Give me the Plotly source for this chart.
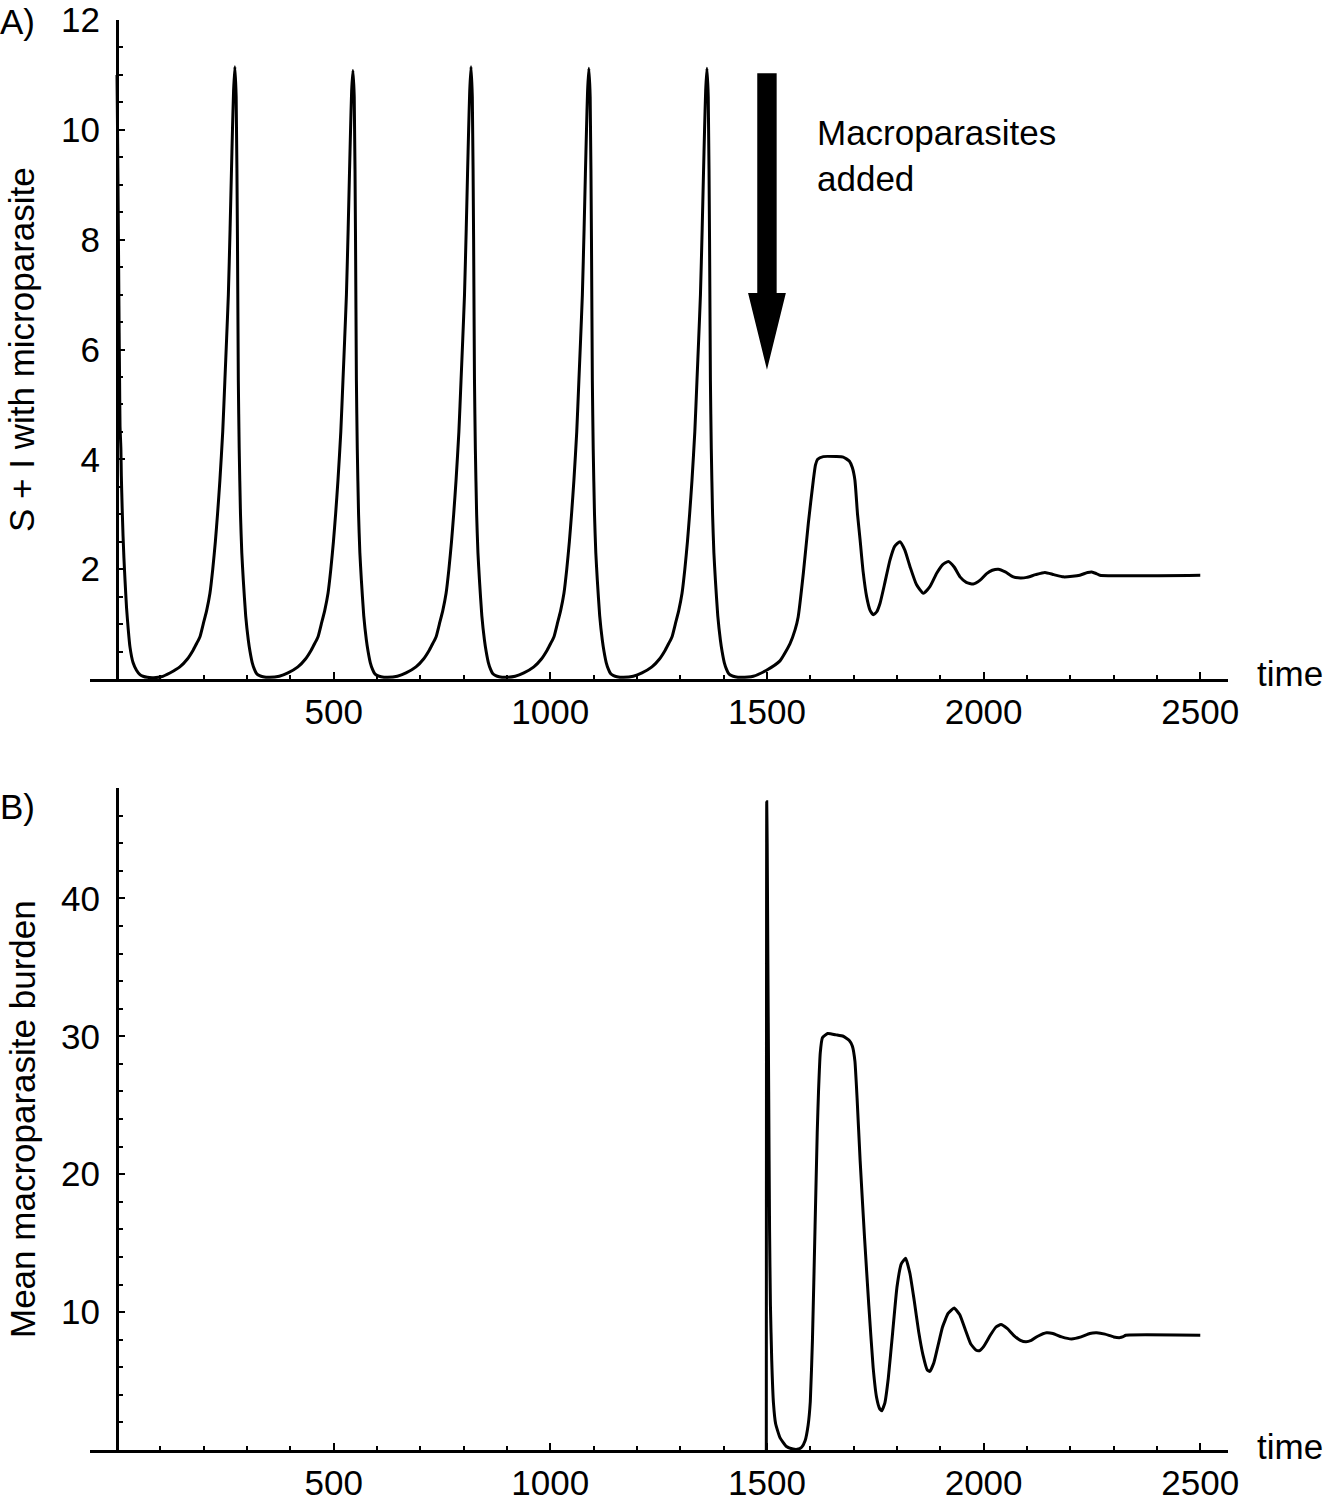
import plotly.graph_objects as go

# ---------------- data ----------------
time_a = [0, 1, 2, 3, 4, 5, 6, 7, 8, 9, 10, 12, 14, 16, 18.5, 22, 26, 30, 37, 45, 53, 60, 70, 85, 102,
          122, 145, 162, 176, 184, 191.5, 199, 207, 214.5, 221, 227, 232, 237.5, 244, 249, 253, 257, 261, 264, 266.5, 269,
          272, 275, 278, 280, 282, 285, 288, 291.5, 297, 303, 307, 312, 317, 322, 329, 337, 352,
          374.5, 394.5, 417.5, 434.5, 448.5, 456.5, 464, 471.5, 479.5, 487, 493.5, 499.5, 504.5, 510, 516.5, 521.5, 525.5, 529.5, 533.5, 536.5, 539, 541.5,
          544.5, 547.5, 550.5, 552.5, 554.5, 557.5, 560.5, 564, 569.5, 575.5, 579.5, 584.5, 589.5, 594.5, 601.5, 609.5, 624.5,
          647, 667, 690, 707, 721, 729, 736.5, 744, 752, 759.5, 766, 772, 777, 782.5, 789, 794, 798, 802, 806, 809, 811.5, 814,
          817, 820, 823, 825, 827, 830, 833, 836.5, 842, 848, 852, 857, 862, 867, 874, 882, 897,
          919, 939, 962, 979, 993, 1001, 1008.5, 1016, 1024, 1031.5, 1038, 1044, 1049, 1054.5, 1061, 1066, 1070, 1074, 1078, 1081, 1083.5, 1086,
          1089, 1092, 1095, 1097, 1099, 1102, 1105, 1108.5, 1114, 1120, 1124, 1129, 1134, 1139, 1146, 1154, 1169,
          1191.5, 1211.5, 1234.5, 1251.5, 1265.5, 1273.5, 1281, 1288.5, 1296.5, 1304, 1310.5, 1316.5, 1321.5, 1327, 1333.5, 1338.5, 1342.5, 1346.5, 1350.5, 1353.5, 1356, 1358.5,
          1361.5, 1364.5, 1367.5, 1369.5, 1371.5, 1374.5, 1377.5, 1381, 1386.5, 1392.5, 1396.5, 1401.5, 1406.5, 1411.5, 1418.5, 1426.5, 1440,
          1468.5, 1499, 1530, 1553, 1565, 1572, 1584, 1595.5, 1607, 1612, 1617, 1630, 1660, 1676, 1690, 1697, 1703, 1709, 1715, 1722, 1730, 1738, 1745.5, 1753, 1761,
          1772, 1784, 1795, 1807, 1818, 1830, 1845, 1861, 1876, 1892, 1905, 1918.5, 1932, 1945.5, 1960, 1976, 1992, 2007, 2020, 2034, 2050,
          2068.5, 2085, 2099.5, 2120, 2141.5, 2162, 2184, 2205, 2222, 2240, 2249.5, 2260, 2268.5, 2500]
s_plus_i = [11.0, 10.2, 9.3, 8.3, 7.3, 6.3, 5.4, 4.6, 4.4, 4.2, 3.7, 3.1, 2.6, 2.2, 1.8, 1.3, 0.9, 0.58, 0.3, 0.16, 0.08, 0.05, 0.03, 0.025, 0.04,
            0.11, 0.22, 0.36, 0.53, 0.65, 0.77, 1.0, 1.25, 1.56, 2.0, 2.5, 3.0, 3.62, 4.5, 5.44, 6.2, 7.0, 8.2, 9.2, 10.0, 10.7,
            11.15, 10.6, 8.0, 5.44, 4.2, 3.0, 2.3, 1.8, 1.15, 0.71, 0.5, 0.3, 0.18, 0.1, 0.06, 0.04, 0.03,
            0.05, 0.11, 0.22, 0.36, 0.53, 0.65, 0.77, 1.0, 1.25, 1.56, 2.0, 2.5, 3.0, 3.62, 4.5, 5.44, 6.2, 7.0, 8.2, 9.2, 10.0, 10.7,
            11.08, 10.6, 8.0, 5.44, 4.2, 3.0, 2.3, 1.8, 1.15, 0.71, 0.5, 0.3, 0.18, 0.1, 0.06, 0.04, 0.03,
            0.05, 0.11, 0.22, 0.36, 0.53, 0.65, 0.77, 1.0, 1.25, 1.56, 2.0, 2.5, 3.0, 3.62, 4.5, 5.44, 6.2, 7.0, 8.2, 9.2, 10.0, 10.7,
            11.15, 10.6, 8.0, 5.44, 4.2, 3.0, 2.3, 1.8, 1.15, 0.71, 0.5, 0.3, 0.18, 0.1, 0.06, 0.04, 0.03,
            0.05, 0.11, 0.22, 0.36, 0.53, 0.65, 0.77, 1.0, 1.25, 1.56, 2.0, 2.5, 3.0, 3.62, 4.5, 5.44, 6.2, 7.0, 8.2, 9.2, 10.0, 10.7,
            11.12, 10.6, 8.0, 5.44, 4.2, 3.0, 2.3, 1.8, 1.15, 0.71, 0.5, 0.3, 0.18, 0.1, 0.06, 0.04, 0.03,
            0.05, 0.11, 0.22, 0.36, 0.53, 0.65, 0.77, 1.0, 1.25, 1.56, 2.0, 2.5, 3.0, 3.62, 4.5, 5.44, 6.2, 7.0, 8.2, 9.2, 10.0, 10.7,
            11.12, 10.6, 8.0, 5.44, 4.2, 3.0, 2.3, 1.8, 1.15, 0.71, 0.5, 0.3, 0.18, 0.1, 0.06, 0.04, 0.03,
            0.05, 0.16, 0.33, 0.64, 0.9, 1.13, 1.93, 2.84, 3.62, 3.9, 4.0, 4.05, 4.05, 4.04, 3.97, 3.85, 3.62, 3.0, 2.53, 1.95, 1.5, 1.25, 1.17, 1.22, 1.38,
            1.75, 2.17, 2.42, 2.5, 2.35, 2.05, 1.72, 1.56, 1.68, 1.93, 2.08, 2.14, 2.04, 1.86, 1.76, 1.73, 1.8, 1.92, 1.98, 2.0, 1.95,
            1.86, 1.84, 1.85, 1.9, 1.94, 1.9, 1.86, 1.87, 1.89, 1.94, 1.95, 1.92, 1.89, 1.89]

time_b = [1498.5, 1499.5, 1500.5, 1502, 1504, 1506, 1508, 1511, 1515, 1520, 1530, 1545, 1560, 1570, 1580, 1588, 1595, 1600, 1605, 1611,
          1616, 1619, 1623, 1628, 1640, 1660, 1676, 1690, 1697, 1703, 1708, 1715, 1725, 1735, 1745, 1753, 1760, 1765, 1772, 1780,
          1790, 1800, 1810, 1820, 1830, 1840, 1850, 1860, 1870, 1876, 1885, 1895, 1905, 1918, 1932, 1945, 1958, 1970, 1982, 1990,
          2000, 2015, 2028, 2040, 2055, 2070, 2085, 2098, 2110, 2125, 2145, 2160, 2180, 2203, 2225, 2245, 2261, 2280, 2300, 2315,
          2322, 2328, 2500]
burden_b = [0, 47, 44, 36, 26, 16, 10.5, 6.5, 3.4, 1.9, 0.9, 0.25, 0.07, 0.05, 0.2, 0.67, 1.8, 3.5, 8, 16.2,
            23, 26, 28.8, 29.9, 30.2, 30.1, 30.0, 29.7, 29.3, 28.2, 25.5, 21, 15.5, 10.5, 6, 3.8, 3.0, 2.85, 3.4, 5.2,
            8.5, 11.8, 13.5, 13.9, 12.8, 10.8, 8.6, 6.9, 5.8, 5.7, 6.3, 7.6, 8.9, 9.9, 10.3, 9.8, 8.7, 7.7, 7.25, 7.2,
            7.5, 8.3, 8.9, 9.1, 8.8, 8.3, 7.95, 7.85, 7.95, 8.25, 8.5, 8.45, 8.2, 8.05, 8.2, 8.45, 8.5, 8.4, 8.2, 8.15,
            8.22, 8.32, 8.32]

x_tickvals = [500, 1000, 1500, 2000, 2500]
ya_tickvals = [2, 4, 6, 8, 10, 12]
yb_tickvals = [10, 20, 30, 40]
macro_time = 1500

# ---------------- layout geometry ----------------
W, H = 1325, 1500
ML, MR, MT, MB = 90, 97, 20, 50
PW, PH = W - ML - MR, H - MT - MB


def fx(px):
    return (px - ML) / PW


def fy(py):
    return (H - MB - py) / PH


FONT = "Liberation Sans, Arial, Helvetica, sans-serif"
FS = 35
BLACK = "#000000"

fig = go.Figure()
fig.add_trace(go.Scatter(x=time_a, y=s_plus_i, mode="lines", xaxis="x", yaxis="y",
                         line=dict(color=BLACK, width=3, shape="spline", smoothing=0.5),
                         showlegend=False, hoverinfo="skip"))
fig.add_trace(go.Scatter(x=time_b, y=burden_b, mode="lines", xaxis="x2", yaxis="y2",
                         line=dict(color=BLACK, width=3, shape="spline", smoothing=0.4),
                         showlegend=False, hoverinfo="skip"))

x_left = -62.3
x_right = 2564
yaxis_pos = fx(117)

common_x = dict(range=[x_left, x_right], domain=[0, 1], showline=True, linecolor=BLACK, linewidth=3,
                showgrid=False, zeroline=False, ticks="inside", ticklen=7, tickwidth=2, tickcolor=BLACK,
                tickvals=x_tickvals, ticktext=[str(v) for v in x_tickvals],
                tickfont=dict(family=FONT, size=FS, color=BLACK), ticklabelstandoff=0,
                minor=dict(ticks="inside", ticklen=4, tickwidth=2, tickcolor=BLACK, dtick=100, tick0=0, showgrid=False),
                fixedrange=True)
common_y = dict(anchor="free", position=yaxis_pos, side="left", showline=True, linecolor=BLACK, linewidth=3,
                showgrid=False, zeroline=False, ticks="inside", ticklen=6, tickwidth=2, tickcolor=BLACK,
                tickfont=dict(family=FONT, size=FS, color=BLACK), ticklabelstandoff=9, fixedrange=True)

fig.update_layout(
    width=W, height=H,
    margin=dict(l=ML, r=MR, t=MT, b=MB, autoexpand=False),
    paper_bgcolor="white", plot_bgcolor="white",
    font=dict(family=FONT, size=FS, color=BLACK),
    xaxis=dict(anchor="y", **common_x),
    xaxis2=dict(anchor="y2", **common_x),
    yaxis=dict(domain=[fy(679), 1.0], range=[0, 12], tickvals=ya_tickvals,
               ticktext=[str(v) for v in ya_tickvals],
               minor=dict(ticks="inside", ticklen=4, tickwidth=2, tickcolor=BLACK, dtick=0.5, tick0=0, showgrid=False),
               **common_y),
    yaxis2=dict(domain=[0, fy(788)], range=[0, 48], tickvals=yb_tickvals,
                ticktext=[str(v) for v in yb_tickvals],
                minor=dict(ticks="inside", ticklen=4, tickwidth=2, tickcolor=BLACK, dtick=2, tick0=0, showgrid=False),
                **common_y),
)

ann_font = dict(family=FONT, size=FS, color=BLACK)
annotations = [
    dict(text="A)", x=fx(17), y=fy(22), xref="paper", yref="paper", xanchor="center", yanchor="middle",
         showarrow=False, font=ann_font),
    dict(text="B)", x=fx(17), y=fy(806), xref="paper", yref="paper", xanchor="center", yanchor="middle",
         showarrow=False, font=ann_font),
    dict(text="time", x=fx(1255), y=fy(673), xref="paper", yref="paper", xanchor="left", yanchor="middle",
         showarrow=False, font=ann_font),
    dict(text="time", x=fx(1255), y=fy(1446), xref="paper", yref="paper", xanchor="left", yanchor="middle",
         showarrow=False, font=ann_font),
    dict(text="S + I with microparasite", x=fx(22), y=fy(350), xref="paper", yref="paper",
         xanchor="center", yanchor="middle", textangle=-90, showarrow=False, font=ann_font),
    dict(text="Mean macroparasite burden", x=fx(22), y=fy(1119), xref="paper", yref="paper",
         xanchor="center", yanchor="middle", textangle=-90, showarrow=False, font=ann_font),
    dict(text="Macroparasites<br>added", x=fx(815), y=fy(156), xref="paper", yref="paper",
         xanchor="left", yanchor="middle", align="left", showarrow=False, font=ann_font),
]
fig.update_layout(annotations=annotations)

# thick arrow marking when macroparasites are added (pixel widths, data heights)
arrow_top, arrow_neck, arrow_tip = 11.03, 7.03, 5.63
half_shaft, half_head = 9.7, 18.9
path = (f"M {-half_shaft},{arrow_top} L {half_shaft},{arrow_top} L {half_shaft},{arrow_neck} "
        f"L {half_head},{arrow_neck} L 0,{arrow_tip} L {-half_head},{arrow_neck} "
        f"L {-half_shaft},{arrow_neck} Z")
fig.add_shape(type="path", xref="x", yref="y", xsizemode="pixel", xanchor=macro_time,
              path=path, fillcolor=BLACK, line=dict(color=BLACK, width=0), layer="above")

fig.write_html("out.html")
